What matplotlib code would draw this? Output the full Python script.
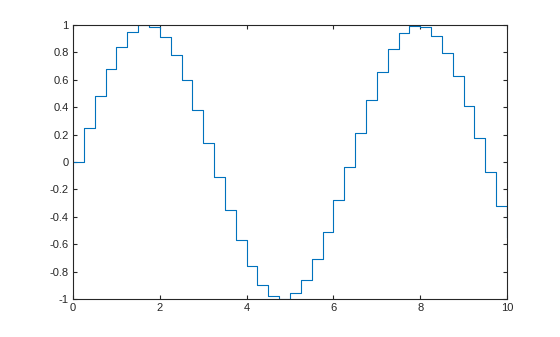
#!/usr/bin/env python3

# stair plot of a sampled sine wave, MATLAB look
import matplotlib
matplotlib.use("Agg")
import matplotlib.pyplot as plt

x_vals = [0.0, 0.25, 0.5, 0.75, 1.0, 1.25, 1.5, 1.75, 2.0, 2.25,
          2.5, 2.75, 3.0, 3.25, 3.5, 3.75, 4.0, 4.25, 4.5, 4.75,
          5.0, 5.25, 5.5, 5.75, 6.0, 6.25, 6.5, 6.75, 7.0, 7.25,
          7.5, 7.75, 8.0, 8.25, 8.5, 8.75, 9.0, 9.25, 9.5, 9.75, 10.0]
y_vals = [0.0, 0.247, 0.479, 0.682, 0.841, 0.949, 0.997, 0.984, 0.909, 0.778,
          0.598, 0.382, 0.141, -0.108, -0.351, -0.572, -0.757, -0.895, -0.978, -0.999,
          -0.959, -0.859, -0.706, -0.510, -0.279, -0.033, 0.215, 0.451, 0.657, 0.823,
          0.938, 0.995, 0.989, 0.917, 0.798, 0.625, 0.412, 0.173, -0.075, -0.319, -0.544]
x_ticks = [0, 2, 4, 6, 8, 10]
y_ticks = [-1, -0.8, -0.6, -0.4, -0.2, 0, 0.2, 0.4, 0.6, 0.8, 1]
y_tick_labels = ["-1", "-0.8", "-0.6", "-0.4", "-0.2", "0", "0.2", "0.4", "0.6", "0.8", "1"]

def main():
    plt.rcParams["font.family"] = ["Liberation Sans", "DejaVu Sans"]
    axis_col = "#262626"

    #create figure and axes
    fig = plt.figure(figsize=(5.6, 3.37), dpi=100, facecolor="white")
    ax = fig.add_axes([73/560, 1 - 299/337, 434/560, 274/337])

    #stairs
    ax.step(x_vals, y_vals, where="post", color="#0072BD", linewidth=0.8)

    ax.set_xlim(0, 10)
    ax.set_ylim(-1, 1)
    ax.set_xticks(x_ticks)
    ax.set_xticklabels([str(t) for t in x_ticks])
    ax.set_yticks(y_ticks)
    ax.set_yticklabels(y_tick_labels)

    #MATLAB style box and inward ticks
    for s in ax.spines.values():
        s.set_color(axis_col)
        s.set_linewidth(0.8)
    ax.tick_params(direction="in", length=3, width=0.8, color=axis_col,
                   labelcolor=axis_col, labelsize=8, top=True, right=True,
                   labeltop=False, labelright=False, pad=3)

    fig.savefig("out.png", dpi=100, facecolor="white")
#end main

if __name__ == "__main__":
    main()
